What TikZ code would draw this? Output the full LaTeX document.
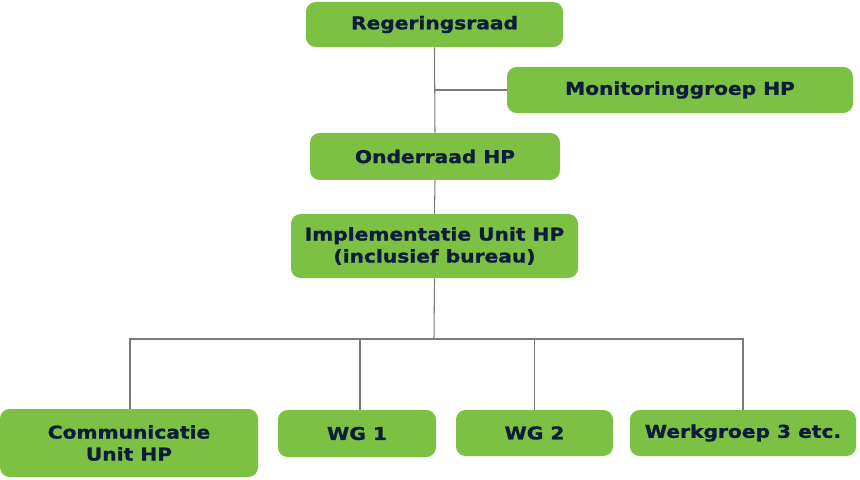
\documentclass[tikz,border=0pt]{standalone}
\usepackage{fontspec}
\usetikzlibrary{positioning}
\newfontfamily\boxfont[FakeStretch=1.15,FakeBold=1.2]{DejaVu Sans}
\definecolor{hpGreen}{HTML}{7CC143}
\definecolor{hpNavy}{HTML}{0B1D3A}
\definecolor{hpLine}{HTML}{7A7A7A}

\tikzset{
  orgbox/.style={rounded corners=5.5pt, fill=hpGreen, text=hpNavy, align=center,
    inner sep=0pt, font=\boxfont\bfseries\fontsize{10}{12.5}\selectfont},
  orgline/.style={draw=hpLine, line width=0.6pt}
}

\begin{document}
\begin{tikzpicture}[x=0.2mm, y=-0.2mm]
        \useasboundingbox (0,0) rectangle (860,480);
        % top of the chart
        \node[orgbox, minimum width=51.4mm, minimum height=9mm] (reg) at (434.5,24.5) {Regeringsraad};
        \node[orgbox, minimum width=69.2mm, minimum height=9.2mm] (mon) at (680,90) {Monitoringgroep HP};
        \node[orgbox, minimum width=50mm, minimum height=9.4mm] (onder) at (435,156.5) {Onderraad HP};
        \node[orgbox, minimum width=57.4mm, minimum height=12.8mm] (impl) at (434.5,246) {Implementatie Unit HP\\(inclusief bureau)};
        % working groups
        \node[orgbox, minimum width=51.6mm, minimum height=13.6mm] (comm) at (129,443) {Communicatie\\Unit HP};
        \node[orgbox, minimum width=31.6mm, minimum height=9.4mm] (wg1) at (357,433.5) {WG 1};
        \node[orgbox, minimum width=31.4mm, minimum height=9.2mm] (wg2) at (534.5,433) {WG 2};
        \node[orgbox, minimum width=45.2mm, minimum height=9.2mm] (wg3) at (743,433) {Werkgroep 3 etc.};
        \coordinate (branch) at (434,90);
        \coordinate (bus) at (434,339);
        \draw[orgline] (reg.south) -- (onder.north);
        \draw[orgline] (branch) -- (mon.west);
        \draw[orgline] (onder.south) -- (impl.north);
        \draw[orgline] (impl.south) -- (bus);
        \draw[orgline] (bus) -| ([xshift=0.2mm]comm.north);
        \draw[orgline] (bus) -| ([xshift=0.6mm]wg1.north);
        \draw[orgline] (bus) -| (wg2.north);
        \draw[orgline] (bus) -| (wg3.north);
      \end{tikzpicture}
\end{document}
